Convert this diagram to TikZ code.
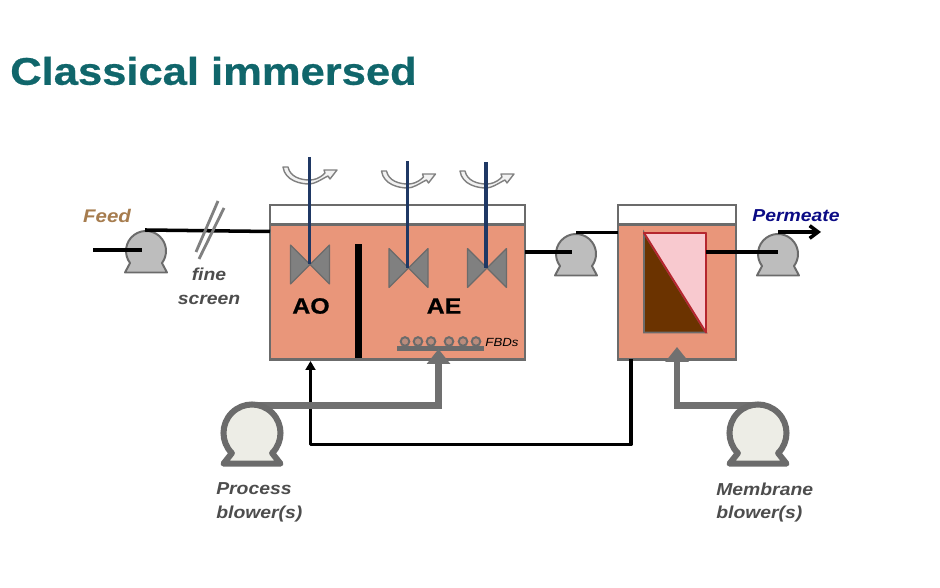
\documentclass[tikz,border=0pt]{standalone}
\usepackage{fontspec}
\setmainfont[FakeStretch=1.12]{Liberation Sans}
\newfontfamily\heavyfont[FakeStretch=1.13,FakeBold=0.7]{Liberation Sans Bold}
\usetikzlibrary{arrows.meta}
\definecolor{wateroc}{HTML}{E9967A}
\definecolor{wallgray}{HTML}{6B6B6B}
\definecolor{airgray}{HTML}{707070}
\definecolor{pumpgray}{HTML}{BDBDBD}
\definecolor{blowerfill}{HTML}{EDEDE6}
\definecolor{shaftblue}{HTML}{1F3864}
\definecolor{titleteal}{HTML}{10666B}
\definecolor{feedbrown}{HTML}{A67C4E}
\definecolor{permblue}{HTML}{0B0B85}
\definecolor{labelgray}{HTML}{4D4D4D}
\definecolor{sludge}{HTML}{6B3300}
\definecolor{mempink}{HTML}{F8C9CF}
\definecolor{memred}{HTML}{B5262E}
\tikzset{%
	tank/.style={
		draw=wallgray,
		fill=wateroc,
		line width=1.6pt,
		inner sep=0pt,
		outer sep=0pt
	},
	pipe/.style={
		draw=black,
		line width=2.5pt
	},
	airpipe/.style={
		draw=airgray,
		line width=4.4pt,
		-{Triangle[width=16pt,length=10.5pt]}
	},
	shaft/.style={
		draw=shaftblue,
		line width=2.2pt
	},
	lbl/.style={
		font=\fontsize{12.3}{17}\selectfont\bfseries\itshape,
		text=labelgray,
		inner sep=0pt
	},
	zone/.style={
		font=\fontsize{15.7}{18}\selectfont\heavyfont,
		inner sep=0pt
	},
	pump/.pic={
		\draw[draw=wallgray, fill=pumpgray, line width=1.4pt, line join=round]
			(217:20) arc[start angle=217, end angle=-37, radius=20]
			-- (21,-21.5) -- (-21,-21.5) -- cycle;
		\coordinate (-center) at (0,0);
		\coordinate (-top) at (0,20);
	},
	blower/.pic={
		\draw[draw=wallgray, fill=blowerfill, line width=4.3pt, line join=round]
			(225:28.5) arc[start angle=225, end angle=-45, radius=28.5]
			-- (28.5,-30.7) -- (-28.5,-30.7) -- cycle;
	},
	rotor/.pic={
		\draw[draw=gray, fill=white!95!black, line width=1pt, line join=round]
			(-26,16) .. controls (-24,2) and (-8,-1) .. (0,-1)
			.. controls (6,-1) and (11,3) .. (19,7)
			-- (21,4) -- (28,13) -- (15,13) -- (16,10)
			.. controls (10,4) and (5,3) .. (0,3)
			.. controls (-8,3) and (-19,6) .. (-21,16) -- cycle;
	},
	bowtie/.pic={
		\fill[draw=wallgray, fill=gray, line width=0.8pt, line join=round]
			(0,0) -- (-19.5,19.5) -- (-19.5,-19.5) -- cycle
			(0,0) -- (19.5,19.5) -- (19.5,-19.5) -- cycle;
		\coordinate (-hub) at (0,0);
	},
}
\begin{document}
\begin{tikzpicture}[x=0.25mm,y=0.25mm]
	\useasboundingbox (0,0) rectangle (940,588);

	% Title
	\node[anchor=west, inner sep=0pt, text=titleteal,
		font=\fontsize{27.4}{30}\selectfont\heavyfont] (title) at (10,517) {Classical immersed};

	% Biological tank
	\draw[draw=wallgray, fill=white, line width=1.6pt] (270,363) rectangle (525,383);
	\node[tank, minimum width=63.75mm, minimum height=33.75mm] (biotank) at (397.5,296) {};
	\fill[black] (355,344) rectangle (361.5,230);
	\node[zone] (ao) at (311,282) {AO};
	\node[zone] (ae) at (444,282) {AE};

	% Membrane tank
	\draw[draw=wallgray, fill=white, line width=1.6pt] (618,363) rectangle (736,383);
	\node[tank, minimum width=29.5mm, minimum height=33.75mm] (mbrtank) at (677,296) {};
	\fill[sludge, draw=wallgray, line width=1.4pt] (644,355) -- (706,255.5) -- (644,255.5) -- cycle;
	\fill[mempink, draw=memred, line width=1.4pt, line join=round] (644,355) -- (706,355) -- (706,255.5) -- cycle;
	\coordinate (memout) at (706,336);

	% Mixers
	\pic (rotao) at (309,405) {rotor};
	\pic (rotaea) at (407.5,401) {rotor};
	\pic (rotaeb) at (486,401) {rotor};
	\pic (mixao) at (310,323.5) {bowtie};
	\pic (mixaea) at (408.5,320) {bowtie};
	\pic (mixaeb) at (487,320) {bowtie};
	\coordinate (topao) at (309.5,431);
	\coordinate (topaea) at (407.5,426.5);
	\coordinate (topaeb) at (486,425.5);
	\draw[shaft] (topao) -- (topao |- mixao-hub);
	\draw[shaft] (topaea) -- (topaea |- mixaea-hub);
	\draw[shaft] (topaeb) -- (topaeb |- mixaeb-hub);

	% Diffusers
	\fill[wallgray] (397,242.3) rectangle (484,237.3);
	\foreach \bx in {405,418,431,449,463,476}
		\draw[draw=wallgray, fill=wateroc!55!gray, line width=1.4pt] (\bx,246.5) circle (4.3);
	\node[inner sep=0pt, font=\fontsize{8.4}{10}\selectfont\itshape] (fbds) at (502,245.5) {FBDs};

	% Recycle line
	\coordinate (recout) at (631,229);
	\coordinate (recb) at (631,143.5);
	\coordinate (reca) at (310.5,143.5);
	\coordinate (recin) at (310.5,227);
	\draw[pipe, line join=round, -{Triangle[width=7pt,length=6.4pt]}] (recout) -- (recb) -- (reca) -- (recin);

	% Small pumps
	\pic (pfeed) at (146,337) {pump};
	\pic (pmid) at (576,334) {pump};
	\pic (pperm) at (778,334) {pump};

	% Feed line and screen
	\coordinate (feedin) at (93,338);
	\coordinate (feedto) at (142,338);
	\coordinate (feedtop) at (145,358);
	\coordinate (bioin) at (270,356.5);
	\draw[pipe] (feedin) -- (feedto);
	\draw[pipe] (feedtop) -- (bioin);
	\draw[draw=gray, line width=2pt] (218,387) -- (196,336);
	\draw[draw=gray, line width=2pt] (224,380) -- (199,329);

	% Transfer and permeate lines
	\coordinate (bioout) at (525,336);
	\coordinate (midto) at (572,336);
	\coordinate (mbrin) at (618,355.5);
	\draw[pipe] (bioout) -- (midto);
	\draw[pipe] (pmid-top |- mbrin) -- (mbrin);
	\draw[pipe] (memout) -- (pperm-center |- memout);
	\coordinate (permend) at (821,356);
	\draw[pipe, -{Straight Barb[length=6pt,width=9pt]}] (pperm-top |- permend) -- (permend);

	% Air lines and blowers
	\coordinate (bproctop) at (252,182.5);
	\coordinate (bmemtop) at (758,182.5);
	\coordinate (airprocb) at (438.5,182.5);
	\coordinate (airprocin) at (438.5,239);
	\coordinate (airmemb) at (677,182.5);
	\coordinate (airmemin) at (677,241);
	\draw[airpipe, line join=miter] (bproctop) -- (airprocb) -- (airprocin);
	\draw[airpipe, line join=miter] (bmemtop) -- (airmemb) -- (airmemin);
	\pic (bproc) at (252,155) {blower};
	\pic (bmem) at (758,155) {blower};

	% Labels
	\node[lbl, text=feedbrown, font=\fontsize{13}{17}\selectfont\bfseries\itshape] (feed) at (107,372) {Feed};
	\node[lbl, align=center] (screen) at (209,302) {fine\\screen};
	\node[lbl, text=permblue] (perm) at (796,372) {Permeate};
	\node[lbl, align=left, anchor=west] (proc) at (216,85.5) {Process\\blower(s)};
	\node[lbl, align=left, anchor=west] (memb) at (716,85.5) {Membrane\\blower(s)};
\end{tikzpicture}
\end{document}
